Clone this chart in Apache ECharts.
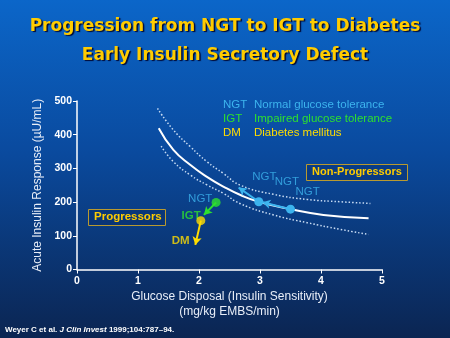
<!DOCTYPE html>
<html><head><meta charset="utf-8">
<script src="https://cdn.jsdelivr.net/npm/echarts@6/dist/echarts.min.js"></script>
<style>html,body{margin:0;padding:0;background:#0a3a80;}#c{width:450px;height:338px;}</style>
</head><body><div id="c"></div>
<script>
// ---- data ----
const xTickValues = [0, 1, 2, 3, 4, 5];
const yTickValues = [0, 100, 200, 300, 400, 500];
const meanCurveX = [1.34, 1.58, 1.86, 2.13, 2.40, 2.68, 2.98, 3.50, 4.04, 4.78];
const meanCurveY = [419, 355, 310, 275, 246, 221, 201, 179, 162, 152];
const upperCurveX = [1.32, 1.58, 1.86, 2.13, 2.40, 2.68, 3.22, 3.77, 4.32, 4.81];
const upperCurveY = [478, 414, 364, 320, 285, 250, 223, 208, 201, 196];
const lowerCurveX = [1.38, 1.58, 1.86, 2.13, 2.40, 2.68, 3.22, 3.77, 4.32, 4.78];
const lowerCurveY = [366, 320, 280, 251, 226, 195, 162, 139, 119, 104];
// non-progressors (NGT -> NGT -> NGT)
const nonProgX = [3.50, 2.98, 2.65];
const nonProgY = [179, 201, 243];
// progressors (NGT -> IGT -> DM)
const progX = [2.28, 2.03, 1.94];
const progY = [199, 145, 73];
const progArrowIGT = [2.08, 162];
const legendCodes = ['NGT', 'IGT', 'DM'];
const legendNames = ['Normal glucose tolerance', 'Impaired glucose tolerance', 'Diabetes mellitus'];

const CYAN = '#3cb4ee', GREEN = '#2ee02e', YELLOW = '#ffdd00', TITLE = '#ffcc00';
const zip = (a, b) => a.map((v, i) => [v, b[i]]);

const chart = echarts.init(document.getElementById('c'), null, {renderer: 'canvas'});

const option = {
  backgroundColor: {
    type: 'linear', x: 0, y: 0, x2: 0, y2: 1,
    colorStops: [{offset: 0, color: '#0b66c9'}, {offset: 0.45, color: '#0a4a9e'}, {offset: 1, color: '#0b2552'}]
  },
  animation: false,
  title: [{
    text: 'Progression from NGT to IGT to Diabetes\nEarly Insulin Secretory Defect',
    left: 'center', top: 7,
    textStyle: {color: TITLE, fontFamily: 'DejaVu Sans', fontWeight: 'bold', fontSize: 17, lineHeight: 29,
      textShadowColor: 'rgba(0,0,40,0.9)', textShadowOffsetX: 1.5, textShadowOffsetY: 1.5, textShadowBlur: 1}
  }],
  grid: {left: 77, right: 68, top: 101, bottom: 68.5, containLabel: false},
  xAxis: {
    type: 'value', min: 0, max: 5, interval: 1,
    name: 'Glucose Disposal (Insulin Sensitivity)\n(mg/kg EMBS/min)',
    nameLocation: 'middle', nameGap: 20,
    nameTextStyle: {color: '#e8eef8', fontFamily: 'Liberation Sans', fontSize: 12, lineHeight: 15, padding: [0, 0, 0, 0]},
    axisLine: {lineStyle: {color: '#ffffff', width: 1.5}},
    axisTick: {show: true, length: 4, lineStyle: {color: '#fff'}},
    axisLabel: {color: '#ffffff', fontFamily: 'Liberation Sans', fontWeight: 'bold', fontSize: 10.5, margin: 6,
      formatter: v => xTickValues.includes(v) ? String(v) : ''},
    splitLine: {show: false}
  },
  yAxis: {
    type: 'value', min: 0, max: 500, interval: 100,
    name: 'Acute Insulin Response (µU/mL)',
    nameLocation: 'middle', nameGap: 27, nameRotate: 90,
    nameTextStyle: {color: '#e8eef8', fontFamily: 'Liberation Sans', fontSize: 12},
    axisLine: {show: true, lineStyle: {color: '#ffffff', width: 1.5}},
    axisTick: {show: true, length: 4, lineStyle: {color: '#fff'}},
    axisLabel: {color: '#ffffff', fontFamily: 'Liberation Sans', fontWeight: 'bold', fontSize: 10.5, margin: 5,
      formatter: v => yTickValues.includes(v) ? String(v) : ''},
    splitLine: {show: false}
  },
  series: [
    {type: 'line', data: zip(upperCurveX, upperCurveY), smooth: true, showSymbol: false,
      lineStyle: {color: '#c8dcf4', width: 1.5, type: [1.5, 2]}},
    {type: 'line', data: zip(meanCurveX, meanCurveY), smooth: true, showSymbol: false,
      lineStyle: {color: '#ffffff', width: 2}},
    {type: 'line', data: zip(lowerCurveX, lowerCurveY), smooth: true, showSymbol: false,
      lineStyle: {color: '#c8dcf4', width: 1.5, type: [1.5, 2]}},
    // non-progressor arrows
    {type: 'line', data: [], markLine: {silent: true, symbol: ['none', 'arrow'], symbolSize: [7, 8], label: {show: false},
      lineStyle: {color: CYAN, width: 2, type: 'solid'},
      data: [
        [{coord: [nonProgX[0], nonProgY[0]]}, {coord: [nonProgX[1] + 0.06, nonProgY[1] - 1.5]}],
        [{coord: [nonProgX[1], nonProgY[1]]}, {coord: [nonProgX[2], nonProgY[2]]}]
      ]}},
    {type: 'scatter', data: [[nonProgX[0], nonProgY[0]], [nonProgX[1], nonProgY[1]]], symbolSize: 9,
      itemStyle: {color: CYAN, opacity: 1}, z: 5},
    // progressor arrows
    {type: 'line', data: [], markLine: {silent: true, symbol: ['none', 'arrow'], symbolSize: [7, 8], label: {show: false},
      data: [
        [{coord: [progX[0], progY[0]], lineStyle: {color: GREEN, width: 2, type: 'solid'}}, {coord: progArrowIGT}],
        [{coord: [progX[1], progY[1]], lineStyle: {color: YELLOW, width: 2, type: 'solid'}}, {coord: [progX[2], progY[2]]}]
      ]}},
    {type: 'scatter', data: [{value: [progX[0], progY[0]], itemStyle: {color: GREEN}}, {value: [progX[1], progY[1]], itemStyle: {color: YELLOW}}],
      symbolSize: 9, z: 5},
    // annotation labels
    {type: 'scatter', symbolSize: 0, silent: true,
      label: {show: true, position: 'inside', fontFamily: 'Liberation Sans', fontSize: 11.5, formatter: p => p.data.t},
      data: [
        {value: [2.02, 209], t: 'NGT', label: {color: CYAN}},
        {value: [1.87, 160], t: 'IGT', label: {color: GREEN, fontWeight: 'bold'}},
        {value: [1.70, 84], t: 'DM', label: {color: YELLOW, fontWeight: 'bold'}},
        {value: [3.07, 275], t: 'NGT', label: {color: CYAN}},
        {value: [3.44, 259], t: 'NGT', label: {color: CYAN}},
        {value: [3.78, 230], t: 'NGT', label: {color: CYAN}}
      ]}
  ],
  graphic: [
    {type: 'text', left: 223, top: 99, style: {text: legendCodes[0], fill: CYAN, font: '11.5px Liberation Sans'}},
    {type: 'text', left: 223, top: 113, style: {text: legendCodes[1], fill: GREEN, font: '11.5px Liberation Sans'}},
    {type: 'text', left: 223, top: 127, style: {text: legendCodes[2], fill: YELLOW, font: '11.5px Liberation Sans'}},
    {type: 'text', left: 254, top: 99, style: {text: legendNames[0], fill: CYAN, font: '11.5px Liberation Sans'}},
    {type: 'text', left: 254, top: 113, style: {text: legendNames[1], fill: GREEN, font: '11.5px Liberation Sans'}},
    {type: 'text', left: 254, top: 127, style: {text: legendNames[2], fill: YELLOW, font: '11.5px Liberation Sans'}},
    {type: 'rect', left: 88, top: 209, shape: {width: 77, height: 16}, style: {fill: 'rgba(10,40,100,0.35)', stroke: '#b89a30', lineWidth: 1}},
    {type: 'text', left: 94, top: 211, style: {text: 'Progressors', fill: TITLE, font: 'bold 11.5px Liberation Sans',
      textShadowColor: 'rgba(0,0,0,0.8)', textShadowOffsetX: 1, textShadowOffsetY: 1}},
    {type: 'rect', left: 306, top: 164, shape: {width: 101, height: 16}, style: {fill: 'rgba(10,40,100,0.35)', stroke: '#b89a30', lineWidth: 1}},
    {type: 'text', left: 312, top: 166, style: {text: 'Non-Progressors', fill: TITLE, font: 'bold 11px Liberation Sans',
      textShadowColor: 'rgba(0,0,0,0.8)', textShadowOffsetX: 1, textShadowOffsetY: 1}},
    {type: 'text', left: 5, top: 326, style: {
      rich: {b: {fill: '#ffffff', font: 'bold 8px Liberation Sans'}, i: {fill: '#ffffff', font: 'italic bold 8px Liberation Sans'}},
      text: '{b|Weyer C et al. }{i|J Clin Invest}{b| 1999;104:787–94.}'}}
  ]
};
chart.setOption(option);
</script>
</body></html>
